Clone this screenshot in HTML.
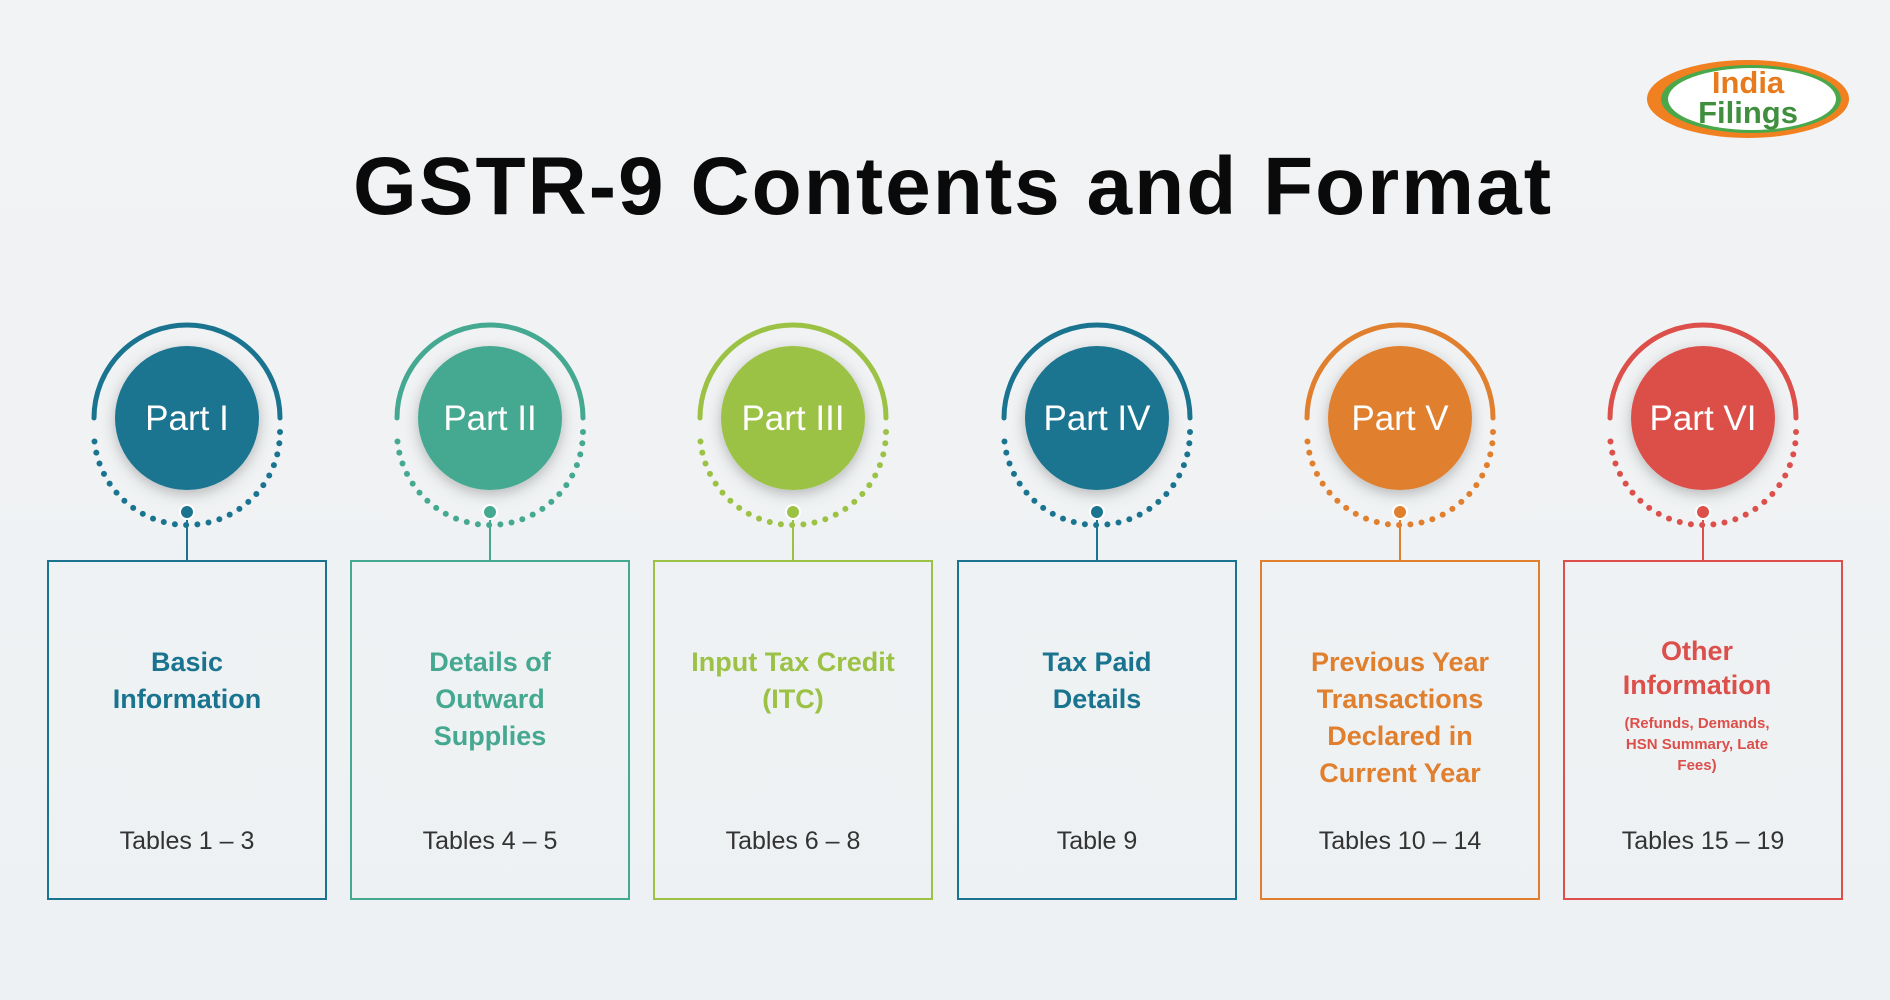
<!DOCTYPE html>
<html><head><meta charset="utf-8"><style>
body{margin:0;width:1890px;height:1000px;overflow:hidden;background:linear-gradient(180deg,#f2f3f4,#edf1f3);font-family:"Liberation Sans",sans-serif;position:relative}
.t{position:absolute;left:0;width:1890px;top:140px;text-align:center;font-weight:bold;font-size:82px;color:#0a0a0a;letter-spacing:2px;padding-left:16px;box-sizing:border-box}
.box{position:absolute;top:560px;width:280px;height:340px;border:2px solid;box-sizing:border-box}
.h{position:absolute;left:0;right:0;top:82px;text-align:center;font-weight:bold;font-size:27px;line-height:37px}
.tb{position:absolute;left:0;right:0;top:265px;text-align:center;font-size:25px;color:#333}
</style></head><body>
<div class="t">GSTR-9 Contents and Format</div>
<svg width="1890" height="1000" style="position:absolute;left:0;top:0">
<defs>
<filter id="sh" x="-50%" y="-50%" width="200%" height="200%"><feDropShadow dx="0" dy="4" stdDeviation="7" flood-color="#000" flood-opacity="0.25"/></filter>
<symbol id="c" overflow="visible">
<path d="M -93 0 A 93 93 0 0 1 93 0" fill="none" stroke="currentColor" stroke-width="5" stroke-linecap="round"/>
<path d="M 93 14 A 93 93 0 0 1 -93 14" fill="none" stroke="currentColor" stroke-width="6" stroke-linecap="round" stroke-dasharray="0 11.3"/>
<circle r="72" fill="currentColor" filter="url(#sh)"/>
<line x1="0" y1="94" x2="0" y2="142" stroke="currentColor" stroke-width="2"/>
<circle cy="94" r="7" fill="currentColor" stroke="#fff" stroke-width="2"/>
</symbol>
</defs>
<g font-family="Liberation Sans" font-size="35" fill="#fff" text-anchor="middle">
<use href="#c" x="187" y="418" style="color:#1a7490"/><text x="187" y="430">Part I</text>
<use href="#c" x="490" y="418" style="color:#45a890"/><text x="490" y="430">Part II</text>
<use href="#c" x="793" y="418" style="color:#9cc245"/><text x="793" y="430">Part III</text>
<use href="#c" x="1097" y="418" style="color:#1a7490"/><text x="1097" y="430">Part IV</text>
<use href="#c" x="1400" y="418" style="color:#e07f2e"/><text x="1400" y="430">Part V</text>
<use href="#c" x="1703" y="418" style="color:#dc4f4a"/><text x="1703" y="430">Part VI</text>
</g>
<g transform="translate(1748,99)">
<ellipse rx="101" ry="39" fill="#f08020"/>
<ellipse cx="3" rx="90" ry="34" fill="#4aa84a"/>
<ellipse cx="4" rx="84" ry="31" fill="#fff"/>
<text y="-6" text-anchor="middle" font-family="Liberation Sans" font-weight="bold" font-size="31" fill="#e87a1e">India</text>
<text y="24" text-anchor="middle" font-family="Liberation Sans" font-weight="bold" font-size="31" fill="#3f8f3f">Filings</text>
</g>
</svg>
<div class="box" style="left:47px;border-color:#1a7490"><div class="h" style="color:#1a7490">Basic<br>Information</div><div class="tb">Tables 1 – 3</div></div>
<div class="box" style="left:350px;border-color:#45a890"><div class="h" style="color:#45a890">Details of<br>Outward<br>Supplies</div><div class="tb">Tables 4 – 5</div></div>
<div class="box" style="left:653px;border-color:#9cc245"><div class="h" style="color:#9cc245">Input Tax Credit<br>(ITC)</div><div class="tb">Tables 6 – 8</div></div>
<div class="box" style="left:957px;border-color:#1a7490"><div class="h" style="color:#1a7490">Tax Paid<br>Details</div><div class="tb">Table 9</div></div>
<div class="box" style="left:1260px;border-color:#e07f2e"><div class="h" style="color:#e07f2e">Previous Year<br>Transactions<br>Declared in<br>Current Year</div><div class="tb">Tables 10 – 14</div></div>
<div class="box" style="left:1563px;border-color:#dc4f4a"><div class="h" style="color:#dc4f4a;top:72px;line-height:34px;left:-12px">Other<br>Information</div><div style="position:absolute;left:-12px;right:0;top:151px;text-align:center;font-weight:bold;font-size:15px;line-height:21px;color:#dc4f4a">(Refunds, Demands,<br>HSN Summary, Late<br>Fees)</div><div class="tb">Tables 15 – 19</div></div>
</body></html>
